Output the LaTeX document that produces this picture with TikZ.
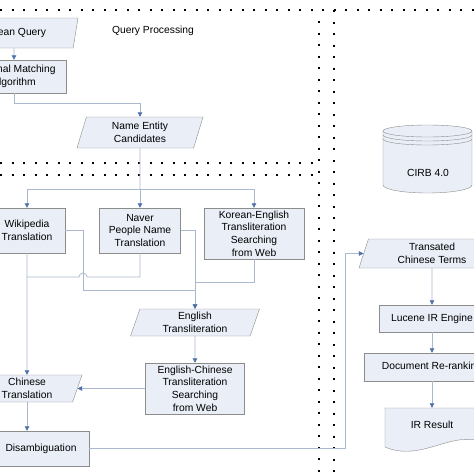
\documentclass[tikz,border=0pt]{standalone}
\usepackage{fontspec}
\setmainfont{Liberation Sans}
\usetikzlibrary{shapes.geometric,arrows.meta}
\definecolor{boxfill}{RGB}{233,238,247}
\definecolor{boxline}{RGB}{140,140,140}
\definecolor{linkline}{RGB}{170,184,208}
\definecolor{tipblue}{RGB}{79,112,170}

\begin{document}
\begin{tikzpicture}[x=1pt,y=-1pt,
    boxfont/.style={font=\fontsize{10.3}{12.6}\selectfont},
    procbox/.style={rectangle,draw=boxline,fill=boxfill,align=center,inner sep=1pt,boxfont},
    databox/.style={trapezium,trapezium left angle=67,trapezium right angle=113,trapezium stretches body,draw=boxline,fill=boxfill,align=center,inner sep=1pt,boxfont},
    link/.style={draw=linkline,line width=0.8pt},
    conn/.style={link,-{Triangle[length=4.5pt,width=4.5pt,color=tipblue]}},
    zoneline/.style={line width=2.2pt,dash pattern=on 2.2pt off 9.3pt}]
  \useasboundingbox (0,0) rectangle (474,474);
  \clip (0,0) rectangle (474,474);

  % zones
  \draw[zoneline] (0,10) -- (474,10);
  \draw[zoneline] (334,10) -- (334,474);
  \draw[zoneline] (319,21) -- (319,474);
  \draw[zoneline] (0,163) -- (314,163);
  \draw[zoneline] (0,175) -- (316,175);

  % query processing
  \node[boxfont] (qp) at (153,31) {Query Processing};
  \node[databox,minimum width=128pt,minimum height=30pt] (kq) at (14,33) {Korean Query};
  \node[procbox,minimum width=104pt,minimum height=33pt] (mma) at (14,76.5) {Maximal Matching\\Algorithm};
  \node[databox,minimum width=126pt,minimum height=31pt] (nec) at (140,132.5) {Name Entity\\Candidates};

  % translation
  \node[procbox,minimum width=76pt,minimum height=45pt] (wiki) at (27,230.5) {Wikipedia\\Translation};
  \node[procbox,minimum width=81pt,minimum height=45pt] (naver) at (140,230.5) {Naver\\People Name\\Translation};
  \node[procbox,minimum width=100pt,minimum height=51pt] (kes) at (254,233.5) {Korean-English\\Transliteration\\Searching\\from Web};
  \node[databox,minimum width=129pt,minimum height=27pt] (etr) at (195,322.5) {English\\Transliteration};
  \node[procbox,minimum width=99pt,minimum height=51pt] (ecs) at (195,388.5) {English-Chinese\\Transliteration\\Searching\\from Web};
  \node[databox,minimum width=110pt,minimum height=27pt] (chtr) at (27,388.5) {Chinese\\Translation};
  \node[procbox,minimum width=96pt,minimum height=35pt] (dis) at (41,448.5) {Disambiguation};

  % retrieval
  \filldraw[draw=boxline,fill=boxfill] (383,131) -- (383,185)
    arc[start angle=180,end angle=360,x radius=44.5pt,y radius=8pt] -- (472,131)
    arc[start angle=0,end angle=180,x radius=44.5pt,y radius=6pt] -- cycle;
  \draw[boxline] (383,131) arc[start angle=180,end angle=360,x radius=44.5pt,y radius=6pt];
  \draw[boxline] (383,135) arc[start angle=180,end angle=360,x radius=44.5pt,y radius=6pt];
  \draw[boxline] (383,139) arc[start angle=180,end angle=360,x radius=44.5pt,y radius=6pt];
  \node[boxfont] (cirb) at (428,173) {CIRB 4.0};
  \node[databox,minimum width=146pt,minimum height=29pt] (tct) at (432,253.5) {Transated\\Chinese Terms};
  \node[procbox,minimum width=106pt,minimum height=27pt] (luc) at (432,318.5) {Lucene IR Engine};
  \node[procbox,minimum width=136pt,minimum height=28pt] (drr) at (432,367) {Document Re-ranking};
  \filldraw[draw=boxline,fill=boxfill] (385,408) -- (479,408) -- (479,441)
    .. controls (450,432) and (420,462) .. (385,447) -- cycle;
  \node[boxfont,minimum width=94pt,minimum height=34pt,inner sep=1pt] (irr) at (432,425) {IR Result};

  % connectors
  \coordinate (split) at (140,189);
  \coordinate (nvjoin) at (27,277);
  \coordinate (kejoin) at (195,282);
  \draw[conn] (kq) -- (mma);
  \draw[conn] (mma.south) -- ++(0,10) -| (nec.north);
  \draw[link] (nec.south) -- (split);
  \draw[conn] (split) -| (wiki.north);
  \draw[conn] (split) -- (naver.north);
  \draw[conn] (split) -| (kes.north);
  \draw[conn] (wiki.south) -- (chtr.north);
  \draw[link] (naver.south) |- (87,277) arc[start angle=0,end angle=180,radius=4pt] -- (nvjoin);
  \draw[conn] (wiki.east) -- ++(18,0) -- ++(0,60) -| (etr.north);
  \draw[conn] (naver.east) -| (etr.north);
  \draw[link] (kes.south) |- (kejoin);
  \draw[conn] (etr) -- (ecs);
  \draw[conn] (ecs.west) -- (chtr.east);
  \draw[conn] (chtr.south) -- (chtr.south |- dis.north);
  \draw[conn] (dis.east) -- ++(256,0) |- (tct.west);
  \draw[conn] (tct) -- (luc);
  \draw[conn] (luc) -- (drr);
  \draw[conn] (drr) -- (irr);
\end{tikzpicture}
\end{document}
